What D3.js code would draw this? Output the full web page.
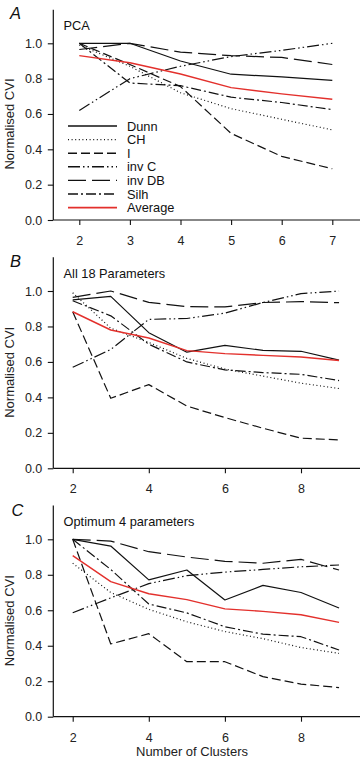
<!DOCTYPE html>
<html><head><meta charset="utf-8">
<script src="https://cdn.jsdelivr.net/npm/d3@7"></script>
<style>
html,body{margin:0;padding:0;background:#fff;}
svg{display:block;font-family:"Liberation Sans",Arial,Helvetica,sans-serif;}
</style></head>
<body>
<svg id="chart" width="360" height="761"></svg>
<script>
// ---- data ----
const seriesNames = ["Dunn", "CH", "I", "inv C", "inv DB", "Silh", "Average"];
const clustersA = [2, 3, 4, 5, 6, 7];
const clustersBC = [2, 3, 4, 5, 6, 7, 8, 9];
const xTicksA = [2, 3, 4, 5, 6, 7];
const xTicksBC = [2, 4, 6, 8];
const yTicks = [0, 0.2, 0.4, 0.6, 0.8, 1.0];
const panelLetters = ["A", "B", "C"];
const panelTitles = ["PCA", "All 18 Parameters", "Optimum 4 parameters"];

const pcaDunn  = [1.0, 1.0, 0.9, 0.825, 0.81, 0.79];
const pcaCH    = [0.99, 0.87, 0.72, 0.63, 0.57, 0.51];
const pcaI     = [1.0, 0.88, 0.755, 0.49, 0.36, 0.29];
const pcaInvC  = [0.62, 0.8, 0.87, 0.925, 0.96, 1.0];
const pcaInvDB = [0.965, 1.0, 0.95, 0.93, 0.92, 0.88];
const pcaSilh  = [1.0, 0.775, 0.76, 0.695, 0.665, 0.625];
const pcaAvg   = [0.93, 0.89, 0.826, 0.749, 0.714, 0.683];

const allDunn  = [0.95, 0.97, 0.765, 0.655, 0.693, 0.665, 0.66, 0.61];
const allCH    = [0.99, 0.79, 0.71, 0.62, 0.56, 0.52, 0.48, 0.45];
const allI     = [0.883, 0.395, 0.472, 0.351, 0.286, 0.226, 0.17, 0.16];
const allInvC  = [0.57, 0.67, 0.84, 0.845, 0.875, 0.935, 0.985, 1.0];
const allInvDB = [0.964, 1.0, 0.936, 0.912, 0.91, 0.935, 0.94, 0.934];
const allSilh  = [0.945, 0.86, 0.70, 0.60, 0.555, 0.54, 0.53, 0.495];
const allAvg   = [0.883, 0.78, 0.735, 0.664, 0.647, 0.637, 0.628, 0.608];

const optDunn  = [1.0, 0.962, 0.771, 0.827, 0.658, 0.74, 0.70, 0.613];
const optCH    = [0.865, 0.70, 0.605, 0.535, 0.48, 0.44, 0.39, 0.357];
const optI     = [1.0, 0.41, 0.468, 0.31, 0.31, 0.226, 0.184, 0.164];
const optInvC  = [0.586, 0.67, 0.75, 0.795, 0.815, 0.83, 0.845, 0.855];
const optInvDB = [1.0, 0.99, 0.93, 0.9, 0.876, 0.865, 0.887, 0.827];
const optSilh  = [1.0, 0.83, 0.635, 0.585, 0.507, 0.465, 0.451, 0.376];
const optAvg   = [0.908, 0.761, 0.693, 0.66, 0.608, 0.594, 0.575, 0.532];

// ---- styles ----
const dashes = ["none", "1,2.6", "9,4", "12,3,1.5,3,1.5,3", "18,6", "10,3,2,3", "none"];
const colours = ["#111", "#111", "#111", "#111", "#111", "#111", "#e3302c"];
const widths = [1.2, 1.2, 1.2, 1.2, 1.2, 1.2, 1.4];

const panels = [
  {x: clustersA, ticks: xTicksA, dom: [2, 7], rng: [79.3, 332.3], y0: 220, y1: 43.3,
   series: [pcaDunn, pcaCH, pcaI, pcaInvC, pcaInvDB, pcaSilh, pcaAvg], legend: true},
  {x: clustersBC, ticks: xTicksBC, dom: [2, 8], rng: [72.7, 301], y0: 468.3, y1: 291,
   series: [allDunn, allCH, allI, allInvC, allInvDB, allSilh, allAvg], legend: false},
  {x: clustersBC, ticks: xTicksBC, dom: [2, 8], rng: [72.7, 301], y0: 716.7, y1: 539.3,
   series: [optDunn, optCH, optI, optInvC, optInvDB, optSilh, optAvg], legend: false}
];

const svg = d3.select("#chart");
const axisX = 53.3;
const letterX = [10, 10, 11.5];

panels.forEach((p, pi) => {
  const g = svg.append("g");
  const x = d3.scaleLinear().domain(p.dom).range(p.rng);
  const y = d3.scaleLinear().domain([0, 1]).range([p.y0, p.y1]);

  // y axis
  const yAx = g.append("g").attr("transform", `translate(${axisX},0)`)
    .call(d3.axisLeft(y).tickValues(yTicks).tickFormat(d3.format(".1f")).tickSize(5.5).tickPadding(5.5));
  yAx.select(".domain").remove();
  g.append("line").attr("x1", axisX).attr("x2", axisX)
    .attr("y1", y(1.19)).attr("y2", y(0)).attr("stroke", "#111").attr("stroke-width", 1.2);

  // x axis
  const xAx = g.append("g").attr("transform", `translate(0,${p.y0})`)
    .call(d3.axisBottom(x).tickValues(p.ticks).tickFormat(d3.format("d")).tickSize(5).tickPadding(11));
  xAx.select(".domain").remove();
  g.append("line").attr("x1", axisX).attr("x2", 360)
    .attr("y1", p.y0).attr("y2", p.y0).attr("stroke", "#111").attr("stroke-width", 1.2);

  [yAx, xAx].forEach(a => {
    a.selectAll("text").attr("font-size", 12.5).attr("fill", "#222")
      .style("font-family", "'Liberation Sans',Arial,sans-serif");
    a.selectAll(".tick line").attr("stroke", "#111").attr("stroke-width", 1.1);
  });

  // y label
  g.append("text").attr("transform", `translate(14,${p.y0 - 96}) rotate(-90)`)
    .attr("text-anchor", "middle").attr("font-size", 13).attr("fill", "#222")
    .text("Normalised CVI");

  // panel letter & title
  g.append("text").attr("x", letterX[pi]).attr("y", p.y0 - 201).attr("font-size", 16.5)
    .attr("font-style", "italic").attr("fill", "#111").text(panelLetters[pi]);
  g.append("text").attr("x", 63.5).attr("y", p.y0 - 190.5)
    .attr("font-size", 12.8).attr("fill", "#111").text(panelTitles[pi]);

  // lines
  const line = d3.line().x((d, i) => x(p.x[i])).y(d => y(d));
  p.series.forEach((s, si) => {
    g.append("path").datum(s).attr("d", line).attr("fill", "none")
      .attr("stroke", colours[si]).attr("stroke-width", widths[si])
      .attr("stroke-dasharray", dashes[si]).attr("stroke-linejoin", "round");
  });

  // legend
  if (p.legend) {
    const lg = g.append("g");
    seriesNames.forEach((n, i) => {
      const yy = 126 + i * 13.6;
      lg.append("line").attr("x1", 68).attr("x2", 117).attr("y1", yy).attr("y2", yy)
        .attr("stroke", colours[i]).attr("stroke-width", widths[i] + 0.2)
        .attr("stroke-dasharray", dashes[i]);
      lg.append("text").attr("x", 127).attr("y", yy + 4.5).attr("font-size", 12.8)
        .attr("fill", "#111").text(n);
    });
  }
});

// x axis title
svg.append("text").attr("x", 192).attr("y", 756).attr("text-anchor", "middle")
  .attr("font-size", 13).attr("fill", "#222").text("Number of Clusters");
</script>
</body></html>
